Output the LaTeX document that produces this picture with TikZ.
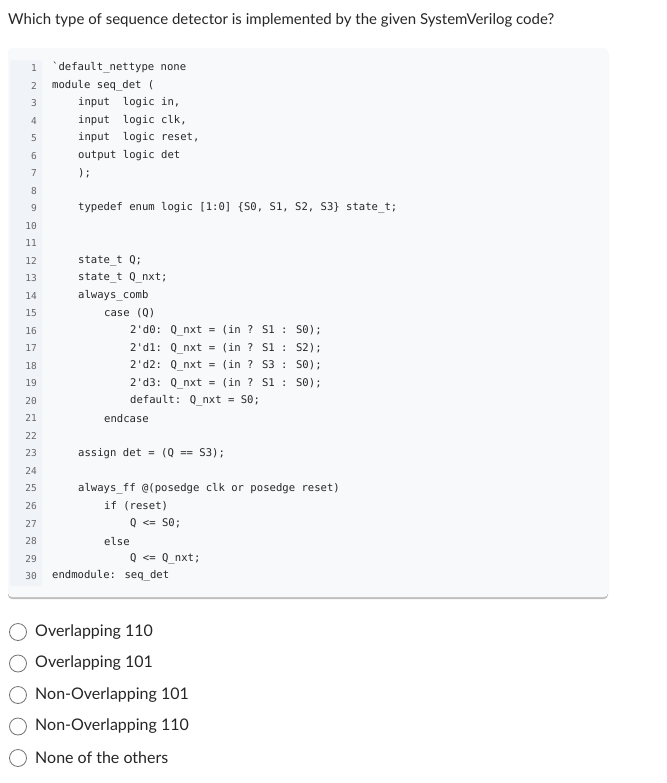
\documentclass[tikz,border=0pt]{standalone}
\usepackage{fontspec}
\setmainfont{Lato}
\newfontfamily\codefont{DejaVu Sans Mono}
\begin{document}
\begin{tikzpicture}[x=1pt,y=-1pt,
  cl/.style={anchor=west,inner sep=0pt,font=\codefont\fontsize{10.6}{12}\selectfont,text=black!85},
  ln/.style={anchor=east,inner sep=0pt,font=\codefont\fontsize{9.5}{11}\selectfont,text=black!60},
  opt/.style={anchor=west,inner sep=0pt,font=\fontsize{16}{19}\selectfont,text=black!85},
  radio/.style={circle,draw=black!55,line width=0.8pt,minimum size=17pt,inner sep=0pt}]
\useasboundingbox (0,0) rectangle (666,783);
\node[anchor=west,inner sep=0pt,font=\fontsize{15}{18}\selectfont,text=black!85] (q) at (8,20) {Which type of sequence detector is implemented by the given SystemVerilog code?};
\fill[black!25,rounded corners=4pt] (8,50) rectangle (608,599);
\fill[fill={rgb,255:red,248;green,249;blue,251},rounded corners=4pt] (8,48) rectangle (608,597);
\fill[fill={rgb,255:red,240;green,243;blue,248},rounded corners=3pt] (10,60) rectangle (42,586);
\foreach \i in {1,...,30} \node[ln] (n\i) at (37,{68+(\i-1)*17.52}) {\i};
\def\L#1#2#3{\node[cl] (c#1) at ({52+#2*6.5},{68+(#1-1)*17.52}) {#3};}
\L{1}{0}{`default\_nettype none}
\L{2}{0}{module seq\_det (}
\L{3}{4}{input\ \ logic in,}
\L{4}{4}{input\ \ logic clk,}
\L{5}{4}{input\ \ logic reset,}
\L{6}{4}{output logic det}
\L{7}{4}{);}
\L{9}{4}{typedef enum logic [1:0] \{S0, S1, S2, S3\} state\_t;}
\L{12}{4}{state\_t Q;}
\L{13}{4}{state\_t Q\_nxt;}
\L{14}{4}{always\_comb}
\L{15}{8}{case (Q)}
\L{16}{12}{2'd0: Q\_nxt = (in ? S1 : S0);}
\L{17}{12}{2'd1: Q\_nxt = (in ? S1 : S2);}
\L{18}{12}{2'd2: Q\_nxt = (in ? S3 : S0);}
\L{19}{12}{2'd3: Q\_nxt = (in ? S1 : S0);}
\L{20}{12}{default: Q\_nxt = S0;}
\L{21}{8}{endcase}
\L{23}{4}{assign det = (Q == S3);}
\L{25}{4}{always\_ff @(posedge clk or posedge reset)}
\L{26}{8}{if (reset)}
\L{27}{12}{Q <= S0;}
\L{28}{8}{else}
\L{29}{12}{Q <= Q\_nxt;}
\L{30}{0}{endmodule: seq\_det}
\foreach \t [count=\k] in {Overlapping 110,Overlapping 101,Non-Overlapping 101,Non-Overlapping 110,None of the others}{
  \node[radio] (r\k) at (18,{632+(\k-1)*31.5}) {};
  \node[opt] (o\k) at (35,{632+(\k-1)*31.5}) {\t};
}
\end{tikzpicture}
\end{document}
